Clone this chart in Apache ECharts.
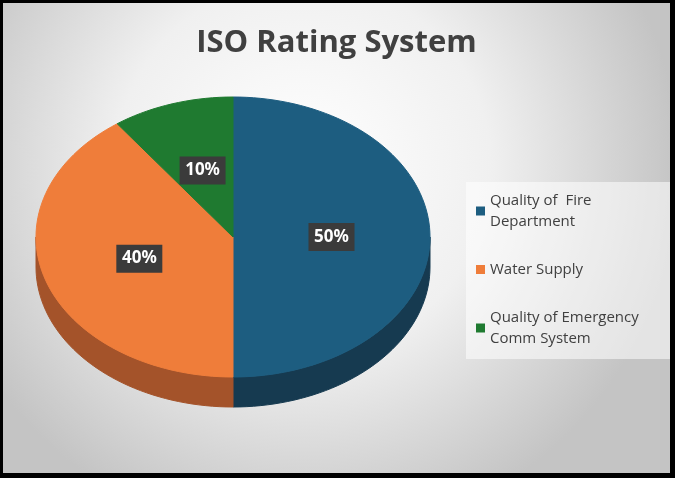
<!DOCTYPE html>
<html><head><meta charset="utf-8">
<script src="https://cdn.jsdelivr.net/npm/echarts@6/dist/echarts.min.js"></script>
<style>html,body{margin:0;padding:0;background:#000;}#c{position:absolute;left:3px;top:3px;width:667px;height:470px;}</style>
</head><body><div id="c"></div>
<script>
const categories = ['Quality of  Fire\nDepartment', 'Water Supply', 'Quality of Emergency\nComm System'];
const values = [50, 40, 10];
const labels = ['50%', '40%', '10%'];
const colors = ['#1d5d80', '#ef7d3a', '#1f7a30'];
const sideColors = ['#163a50', '#a4532a', '#124a1c'];

const CX = 230, CY = 234, RX = 197, RY = 140, DEPTH = 30;
const total = values.reduce((a, b) => a + b, 0);
const starts = []; let acc = 0;
values.forEach(v => { starts.push(acc / total * 360); acc += v; });
function pt(deg, dy) { const t = deg * Math.PI / 180; return [CX + RX * Math.sin(t), CY - RY * Math.cos(t) + (dy || 0)]; }
function arc(a0, a1, dy) { const p = []; const n = Math.max(2, Math.ceil((a1 - a0) / 2)); for (let i = 0; i <= n; i++) p.push(pt(a0 + (a1 - a0) * i / n, dy)); return p; }

const series = [];
series.push({
  type: 'custom', coordinateSystem: 'none', silent: true, z: 1,
  data: values.map((v, i) => [i]),
  renderItem: function (params, api) {
    const i = api.value(0);
    const a0 = Math.max(starts[i], 90), a1 = Math.min(starts[i] + values[i] / total * 360, 270);
    if (a1 <= a0) return { type: 'group', children: [] };
    const top = arc(a0, a1, 0), bot = arc(a0, a1, DEPTH).reverse();
    return { type: 'polygon', shape: { points: top.concat(bot) }, style: { fill: sideColors[i], stroke: sideColors[i] } };
  }
});
categories.forEach((name, i) => {
  series.push({
    type: 'custom', name: name, coordinateSystem: 'none', z: 2,
    itemStyle: { color: colors[i] },
    data: [[i, values[i]]],
    renderItem: function (params, api) {
      const k = api.value(0);
      const a0 = starts[k], a1 = a0 + api.value(1) / total * 360;
      const pts = [[CX, CY]].concat(arc(a0, a1, 0));
      const m = pt((a0 + a1) / 2, 0);
      const lx = CX + (m[0] - CX) * 0.5, ly = CY + (m[1] - CY) * 0.5;
      return { type: 'group', children: [
        { type: 'polygon', shape: { points: pts }, style: { fill: colors[k], stroke: colors[k] } },
        { type: 'rect', shape: { x: lx - 23, y: ly - 14, width: 46, height: 28 }, style: { fill: '#3b3b3b' }, z2: 5 },
        { type: 'text', x: lx, y: ly, style: { text: labels[k], fill: '#fff', font: 'bold 17px "Noto Sans", sans-serif', align: 'center', verticalAlign: 'middle' }, z2: 6 }
      ] };
    }
  });
});

const chart = echarts.init(document.getElementById('c'));
chart.setOption({
  animation: false,
  backgroundColor: { type: 'radial', x: 0.45, y: 0.35, r: 0.8, colorStops: [{ offset: 0, color: '#ffffff' }, { offset: 0.5, color: '#f0f0f0' }, { offset: 1, color: '#c4c4c4' }] },
  title: { text: 'ISO Rating System', left: 'center', top: 20, textStyle: { fontFamily: 'Open Sans', fontWeight: 'bold', fontSize: 31, color: '#404040' } },
  legend: {
    orient: 'vertical', left: 463, top: 179, width: 190,
    padding: [8, 12, 10, 10], backgroundColor: 'rgba(255,255,255,0.55)',
    itemWidth: 9, itemHeight: 9, itemGap: 27, icon: 'rect',
    textStyle: { fontFamily: 'Open Sans', fontSize: 15, color: '#404040', lineHeight: 21, width: 175 },
    data: categories
  },
  series: series
});
</script></body></html>
